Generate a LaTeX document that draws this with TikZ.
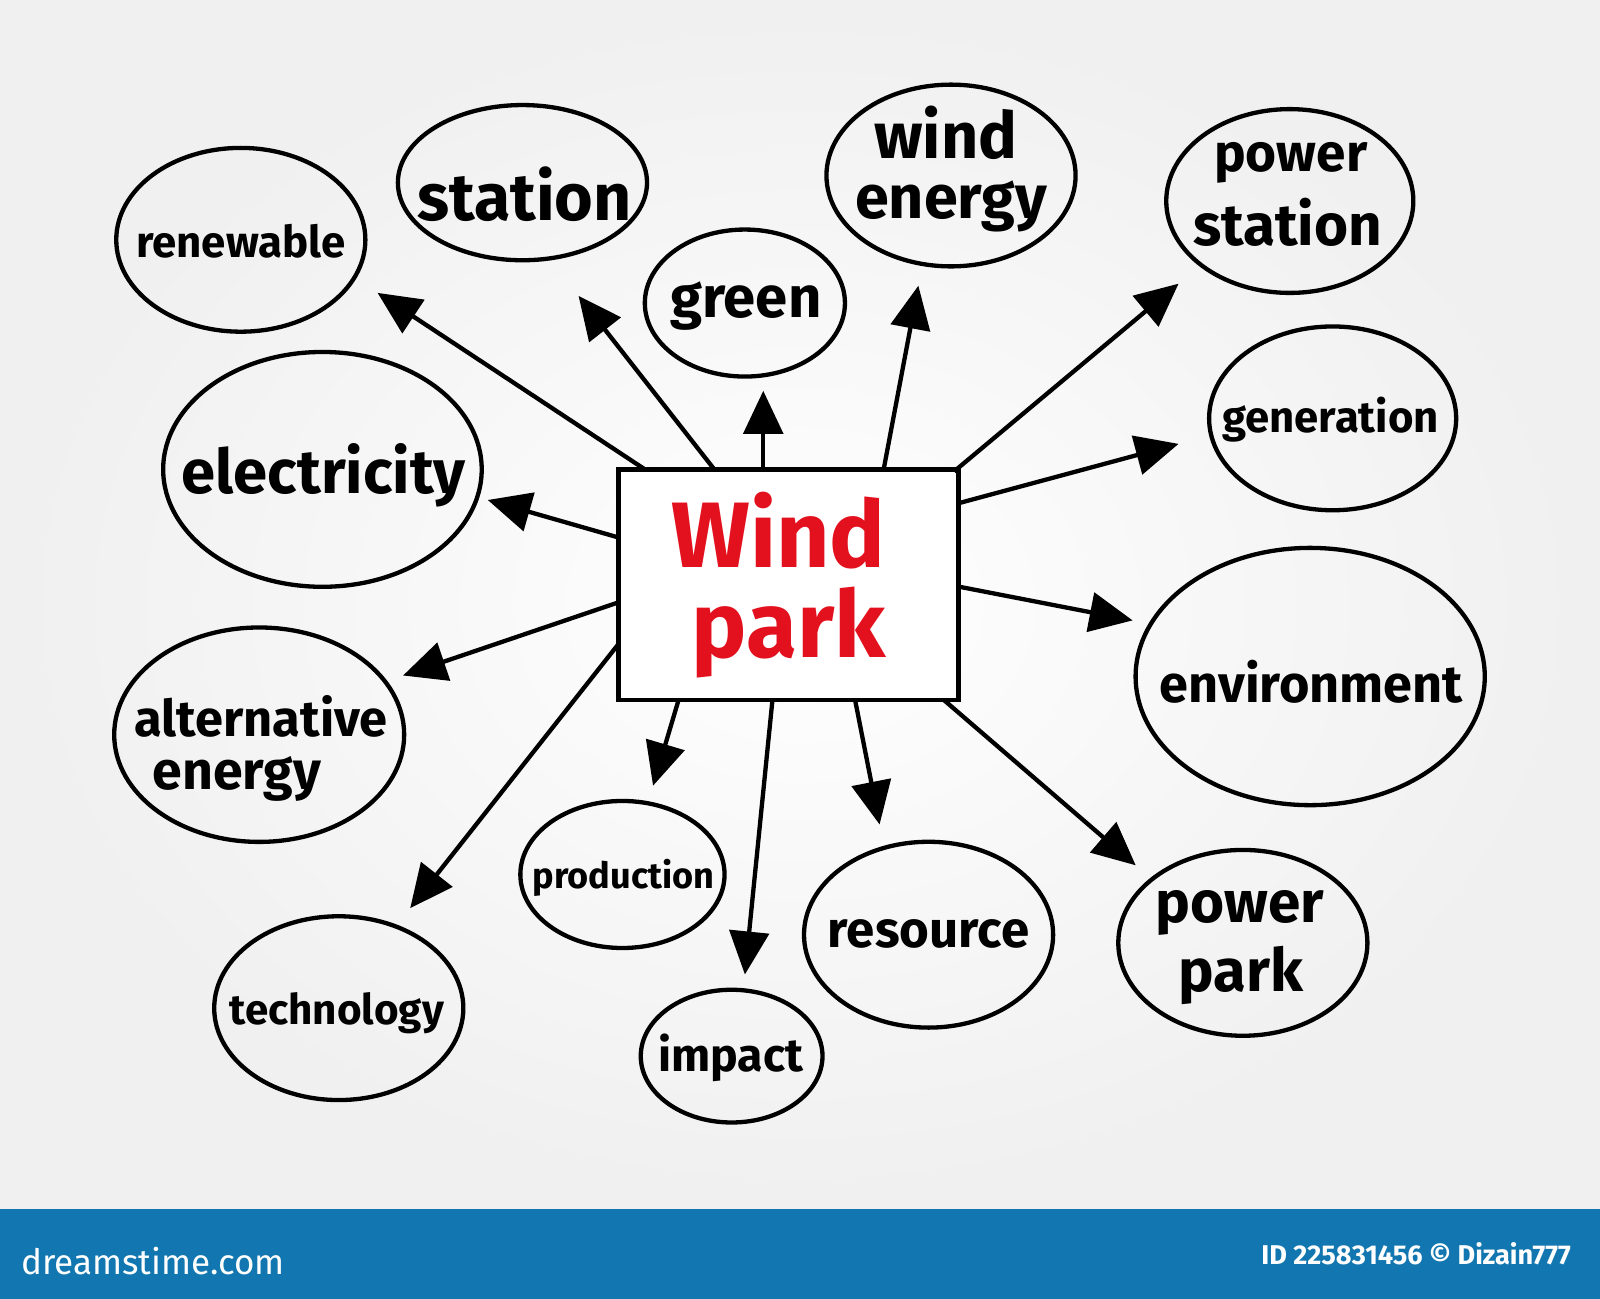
\documentclass[tikz,border=0pt]{standalone}
\usepackage{fontspec}
\setmainfont{Fira Sans}
\usetikzlibrary{arrows.meta,shapes.geometric}
\definecolor{wpred}{HTML}{E3101E}
\definecolor{barblue}{HTML}{1277B0}
\newcommand\fw[2]{\resizebox{#1cm}{!}{#2}}
\begin{document}
\begin{tikzpicture}[x=0.01cm,y=-0.01cm,
  bubble/.style={ellipse, draw, line width=1.2pt, inner sep=0pt},
  word/.style={inner sep=0pt, font=\bfseries},
  arr/.style={line width=1.2pt, -{Triangle[length=12pt,width=11pt]}},
  hub/.style={draw, line width=1.3pt, fill=white, inner sep=0pt}]
\useasboundingbox (0,0) rectangle (1568,1273);
\shade[inner color=white, outer color=black!6] (0,0) rectangle (1568,1185);
\fill[barblue] (0,1185) rectangle (1568,1273);
\node[text=white, anchor=west, inner sep=0pt] (logo) at (20,1236) {\fw{2.58}{dreamstime.com}};
\node[text=white, anchor=east, inner sep=0pt] (idtxt) at (1540,1229) {\fw{3.03}{\bfseries ID 225831456 © Dizain777}};

% hub
\node[hub, minimum width=3.33cm, minimum height=2.26cm] (hub) at (773,573) {};
\node[word, text=wpred] (wind) at (763,520) {\fw{2.10}{Wind}};
\node[word, text=wpred] (park) at (773,620) {\fw{1.90}{park}};

% bubbles
\node[bubble, minimum width=2.44cm, minimum height=1.80cm] (renewable) at (236,235) {};
\node[bubble, minimum width=2.44cm, minimum height=1.52cm] (station) at (512,179) {};
\node[bubble, minimum width=2.44cm, minimum height=1.78cm] (windenergy) at (932,172) {};
\node[bubble, minimum width=2.42cm, minimum height=1.80cm] (powerstation) at (1264,197) {};
\node[bubble, minimum width=1.96cm, minimum height=1.44cm] (green) at (730,297) {};
\node[bubble, minimum width=3.12cm, minimum height=2.30cm] (electricity) at (316,460) {};
\node[bubble, minimum width=2.42cm, minimum height=1.80cm] (generation) at (1306,410) {};
\node[bubble, minimum width=3.42cm, minimum height=2.52cm] (environment) at (1284,663) {};
\node[bubble, minimum width=2.84cm, minimum height=2.10cm] (alternative) at (254,720) {};
\node[bubble, minimum width=2.00cm, minimum height=1.44cm] (production) at (610,857) {};
\node[bubble, minimum width=2.44cm, minimum height=1.80cm] (technology) at (332,988) {};
\node[bubble, minimum width=1.78cm, minimum height=1.30cm] (impact) at (717,1035) {};
\node[bubble, minimum width=2.44cm, minimum height=1.82cm] (resource) at (910,916) {};
\node[bubble, minimum width=2.44cm, minimum height=1.82cm] (powerpark) at (1218,924) {};

% texts
\node[word] (t-renewable) at (236,236) {\fw{2.05}{renewable}};
\node[word] (t-station) at (514,190) {\fw{2.10}{station}};
\node[word] (t-wind) at (927,130) {\fw{1.40}{wind}};
\node[word] (t-energy) at (932,202) {\fw{1.88}{energy}};
\node[word] (t-power1) at (1265,160) {\fw{1.50}{power}};
\node[word] (t-station2) at (1262,218) {\fw{1.85}{station}};
\node[word] (t-green) at (731,300) {\fw{1.48}{green}};
\node[word] (t-electricity) at (317,466) {\fw{2.78}{electricity}};
\node[word] (t-generation) at (1304,411) {\fw{2.12}{generation}};
\node[word] (t-environment) at (1285,668) {\fw{2.97}{environment}};
\node[word] (t-alternative) at (256,702) {\fw{2.48}{alternative}};
\node[word] (t-energy2) at (232,763) {\fw{1.65}{energy}};
\node[word] (t-production) at (611,860) {\fw{1.78}{production}};
\node[word] (t-technology) at (330,993) {\fw{2.10}{technology}};
\node[word] (t-impact) at (716,1037) {\fw{1.42}{impact}};
\node[word] (t-resource) at (910,915) {\fw{1.97}{resource}};
\node[word] (t-power2) at (1215,895) {\fw{1.65}{power}};
\node[word] (t-park) at (1216,956) {\fw{1.22}{park}};

% arrow end points
\coordinate (s1) at (632,460); \coordinate (t1) at (370,287);
\coordinate (s2) at (700,460); \coordinate (t2) at (567,290);
\coordinate (s3) at (748,460); \coordinate (t3) at (748,383);
\coordinate (s4) at (866,460); \coordinate (t4) at (900,280);
\coordinate (s5) at (935,462); \coordinate (t5) at (1155,278);
\coordinate (s6) at (940,493); \coordinate (t6) at (1155,435);
\coordinate (s7) at (940,575); \coordinate (t7) at (1110,608);
\coordinate (s8) at (607,527); \coordinate (t8) at (478,490);
\coordinate (s9) at (607,590); \coordinate (t9) at (395,662);
\coordinate (s10) at (607,630); \coordinate (t10) at (402,890);
\coordinate (s11) at (665,686); \coordinate (t11) at (640,770);
\coordinate (s12) at (757,686); \coordinate (t12) at (730,955);
\coordinate (s13) at (838,686); \coordinate (t13) at (862,808);
\coordinate (s14) at (925,686); \coordinate (t14) at (1113,848);
\foreach \i in {1,...,14} { \draw[arr] (s\i) -- (t\i); }
\end{tikzpicture}
\end{document}
